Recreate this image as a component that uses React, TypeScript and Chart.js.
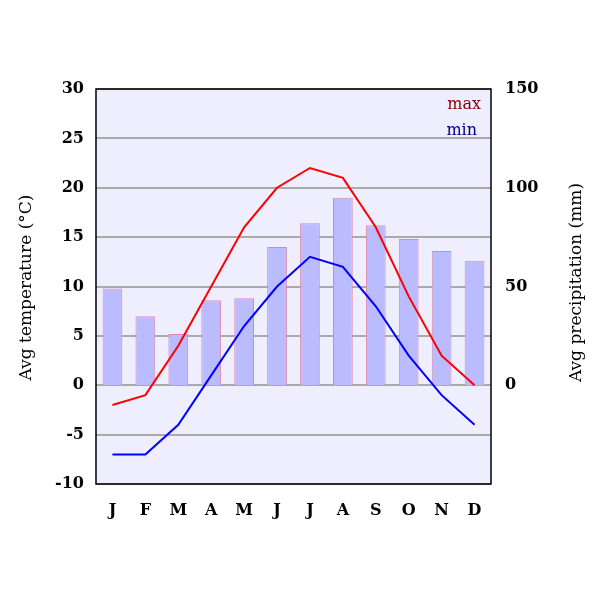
import React, { useEffect, useRef } from "react";
import { Chart, registerables } from "chart.js";

Chart.register(...registerables);

const months = ["J", "F", "M", "A", "M", "J", "J", "A", "S", "O", "N", "D"];
const maxTemp = [-2, -1, 4, 10, 16, 20, 22, 21, 16, 9, 3, 0];
const minTemp = [-7, -7, -4, 1, 6, 10, 13, 12, 8, 3, -1, -4];
const precip = [49, 35, 26, 43, 44, 70, 82, 95, 81, 74, 68, 63];

const leftTitle = "Avg temperature (°C)";
const rightTitle = "Avg precipitation (mm)";

const FONT = "'DejaVu Serif', serif";

const bgPlugin = {
  id: "bgPlugin",
  beforeDraw(chart: any) {
    const { ctx, chartArea } = chart;
    ctx.save();
    ctx.fillStyle = "#eeeeff";
    ctx.fillRect(chartArea.left, chartArea.top, chartArea.right - chartArea.left, chartArea.bottom - chartArea.top);
    ctx.restore();
  },
  afterDraw(chart: any) {
    const { ctx, chartArea } = chart;
    ctx.save();
    ctx.strokeStyle = "#000000";
    ctx.lineWidth = 1.5;
    ctx.strokeRect(chartArea.left, chartArea.top, chartArea.right - chartArea.left, chartArea.bottom - chartArea.top);
    ctx.font = "16px " + FONT;
    ctx.textAlign = "right";
    ctx.textBaseline = "middle";
    ctx.fillStyle = "#880000";
    ctx.fillText("max", chartArea.right - 10, chartArea.top + 16);
    ctx.fillStyle = "#000088";
    ctx.fillText("min", chartArea.right - 14, chartArea.top + 42);

    const cy = (chartArea.top + chartArea.bottom) / 2;
    ctx.fillStyle = "#000";
    ctx.textAlign = "center";
    ctx.font = "17px " + FONT;
    ctx.save();
    ctx.translate(27, cy + 1);
    ctx.rotate(-Math.PI / 2);
    ctx.fillText(leftTitle, 0, 0);
    ctx.restore();
    ctx.save();
    ctx.translate(577, cy - 4);
    ctx.rotate(-Math.PI / 2);
    ctx.fillText(rightTitle, 0, 0);
    ctx.restore();
    ctx.restore();
  },
};

export default function App() {
  const ref = useRef<HTMLCanvasElement>(null);
  useEffect(() => {
    const chart = new Chart(ref.current as HTMLCanvasElement, {
      type: "bar",
      data: {
        labels: months,
        datasets: [
          {
            type: "line",
            label: "max",
            data: maxTemp,
            borderColor: "#ff0000",
            borderWidth: 2,
            pointRadius: 0,
            yAxisID: "y",
            order: 0,
          } as any,
          {
            type: "line",
            label: "min",
            data: minTemp,
            borderColor: "#0000ff",
            borderWidth: 2,
            pointRadius: 0,
            yAxisID: "y",
            order: 0,
          } as any,
          {
            type: "bar",
            label: "precipitation",
            data: precip,
            backgroundColor: "#bbbbff",
            borderColor: "#dd88aa",
            borderWidth: 1,
            yAxisID: "y1",
            barPercentage: 0.6,
            categoryPercentage: 1,
            order: 2,
          } as any,
        ],
      },
      options: {
        animation: false,
        responsive: false,
        maintainAspectRatio: false,
        layout: { padding: { top: 89, left: 0, right: 0, bottom: 0 } },
        plugins: { legend: { display: false }, tooltip: { enabled: false } },
        scales: {
          x: {
            grid: { display: false, drawTicks: false },
            border: { display: false },
            ticks: { font: { family: FONT, size: 16, weight: "bold" }, color: "#000", padding: 17, maxRotation: 0 },
            afterFit(scale: any) {
              scale.height = 116;
            },
          },
          y: {
            position: "left",
            min: -10,
            max: 30,
            ticks: { stepSize: 5, font: { family: FONT, size: 16, weight: "bold" }, color: "#000", padding: 12 },
            grid: { color: "#aaaaaa", lineWidth: 2, drawTicks: false },
            border: { display: false },
            title: { display: false },
            afterFit(scale: any) {
              scale.width = 96;
            },
          },
          y1: {
            position: "right",
            min: -50,
            max: 150,
            ticks: {
              stepSize: 50,
              font: { family: FONT, size: 16, weight: "bold" },
              color: "#000",
              padding: 14,
              callback: (v: any) => (Number(v) < 0 ? "" : String(v)),
            },
            grid: { display: false, drawTicks: false },
            border: { display: false },
            title: { display: false },
            afterFit(scale: any) {
              scale.width = 109;
            },
          },
        },
      } as any,
      plugins: [bgPlugin],
    });
    return () => chart.destroy();
  }, []);
  return (
    <div style={{ position: "fixed", left: 0, top: 0, width: 600, height: 600, background: "#fff" }}>
      <canvas ref={ref} width={600} height={600} style={{ width: 600, height: 600 }} />
    </div>
  );
}
